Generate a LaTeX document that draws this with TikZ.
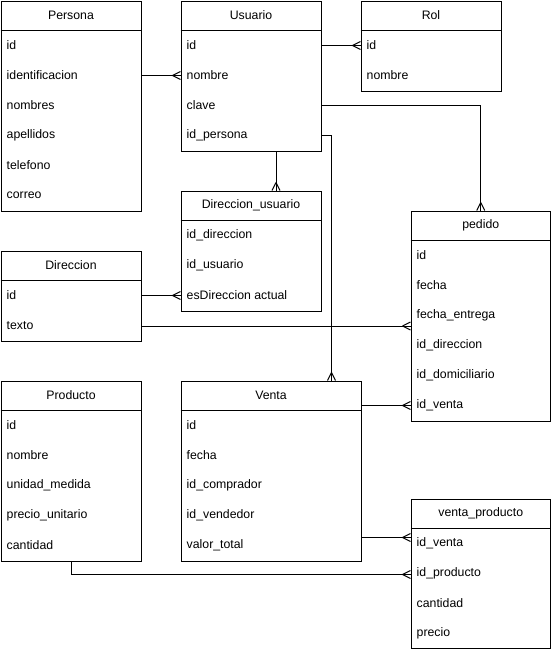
\documentclass[tikz,border=0pt]{standalone}
\usepackage{fontspec}
\setmainfont{Liberation Sans}
\usetikzlibrary{calc}
\pgfdeclarearrow{
  name = crow,
  setup code = {
    \pgfarrowssettipend{0pt}
    \pgfarrowssetlineend{0pt}
    \pgfarrowssetbackend{-8pt}
    \pgfarrowssetvisualbackend{-8pt}
  },
  drawing code = {
    \pgfsetdash{}{0pt}
    \pgfpathmoveto{\pgfpoint{-8pt}{0pt}}
    \pgfpathlineto{\pgfpoint{0pt}{4pt}}
    \pgfpathmoveto{\pgfpoint{-8pt}{0pt}}
    \pgfpathlineto{\pgfpoint{0pt}{-4pt}}
    \pgfusepathqstroke
  }
}
\tikzset{
  box/.style={draw, line width=1pt, rectangle, inner sep=0pt, fill=white},
  ttl/.style={font=\fontsize{12.3}{14}\selectfont, inner sep=0pt},
  attr/.style={font=\fontsize{12.3}{14}\selectfont, inner sep=0pt, anchor=west},
  er/.style={draw, line width=1pt, -crow},
}
\newcommand\ERent[6]{%
  \node[box, minimum width=#4pt, minimum height=#5pt, anchor=north west] (#1) at (#2+0.5,#3+0.5) {};
  \draw[line width=1pt] ([yshift=-30pt]#1.north west) -- ([yshift=-30pt]#1.north east);
  \node[ttl] (#1-t) at ([yshift=-15pt]#1.north) {#6};
}
\newcommand\ERattrs[2]{%
  \foreach \t [count=\i] in {#2}
    \node[attr] (#1-\i) at ([xshift=6pt,yshift={-15pt-30pt*\i}]#1.north west) {\t};
}
\begin{document}
\begin{tikzpicture}[x=1pt,y=-1pt]
\useasboundingbox (0,0) rectangle (551,649);
% entities
\ERent{pe}{0}{0}{140}{210}{Persona}
\ERattrs{pe}{id,identificacion,nombres,apellidos,telefono,correo}
\ERent{us}{180}{0}{140}{150}{Usuario}
\ERattrs{us}{id,nombre,clave,id\_persona}
\ERent{ro}{360}{0}{140}{90}{Rol}
\ERattrs{ro}{id,nombre}
\ERent{du}{180}{190}{140}{120}{Direccion\_usuario}
\ERattrs{du}{id\_direccion,id\_usuario,esDireccion actual}
\ERent{di}{0}{250}{140}{90}{Direccion}
\ERattrs{di}{id,texto}
\ERent{pd}{410}{210}{139.5}{210}{pedido}
\ERattrs{pd}{id,fecha,fecha\_entrega,id\_direccion,id\_domiciliario,id\_venta}
\ERent{pr}{0}{380}{140}{180}{Producto}
\ERattrs{pr}{id,nombre,unidad\_medida,precio\_unitario,cantidad}
\ERent{ve}{180}{380}{180}{180}{Venta}
\ERattrs{ve}{id,fecha,id\_comprador,id\_vendedor,valor\_total}
\ERent{vp}{410}{498}{139.5}{149}{venta\_producto}
\ERattrs{vp}{id\_venta,id\_producto,cantidad,precio}
% helper coordinates
\coordinate (vejoin) at ($(ve.south east)+(0,-24)$);
\coordinate (prjoin) at ($(pr.south)+(0,13)$);
% connectors
\draw[er] (pe.east |- pe-2) -- (us.west |- us-2);
\draw[er] (us.east |- us-1) -- (ro.west |- ro-1);
\draw[er] (us.east |- us-3) -| (pd.north);
\draw[er] (us.east |- us-4) -| ([xshift=-30pt]ve.north east);
\draw[er] ([xshift=25pt]us.south) -- ([xshift=25pt]du.north);
\draw[er] (di.east |- di-1) -- (du.west |- du-3);
\draw[er] ($(di.east |- di-2)+(0,0.5)$) -- ($(pd.west |- di-2)+(0,0.5)$);
\draw[er] (ve.east |- pd-6) -- (pd.west |- pd-6);
\draw[er] (vejoin) -- (vp.west |- vejoin);
\draw[er] (pr.south) -- (prjoin) -- (vp.west |- prjoin);
\end{tikzpicture}
\end{document}
